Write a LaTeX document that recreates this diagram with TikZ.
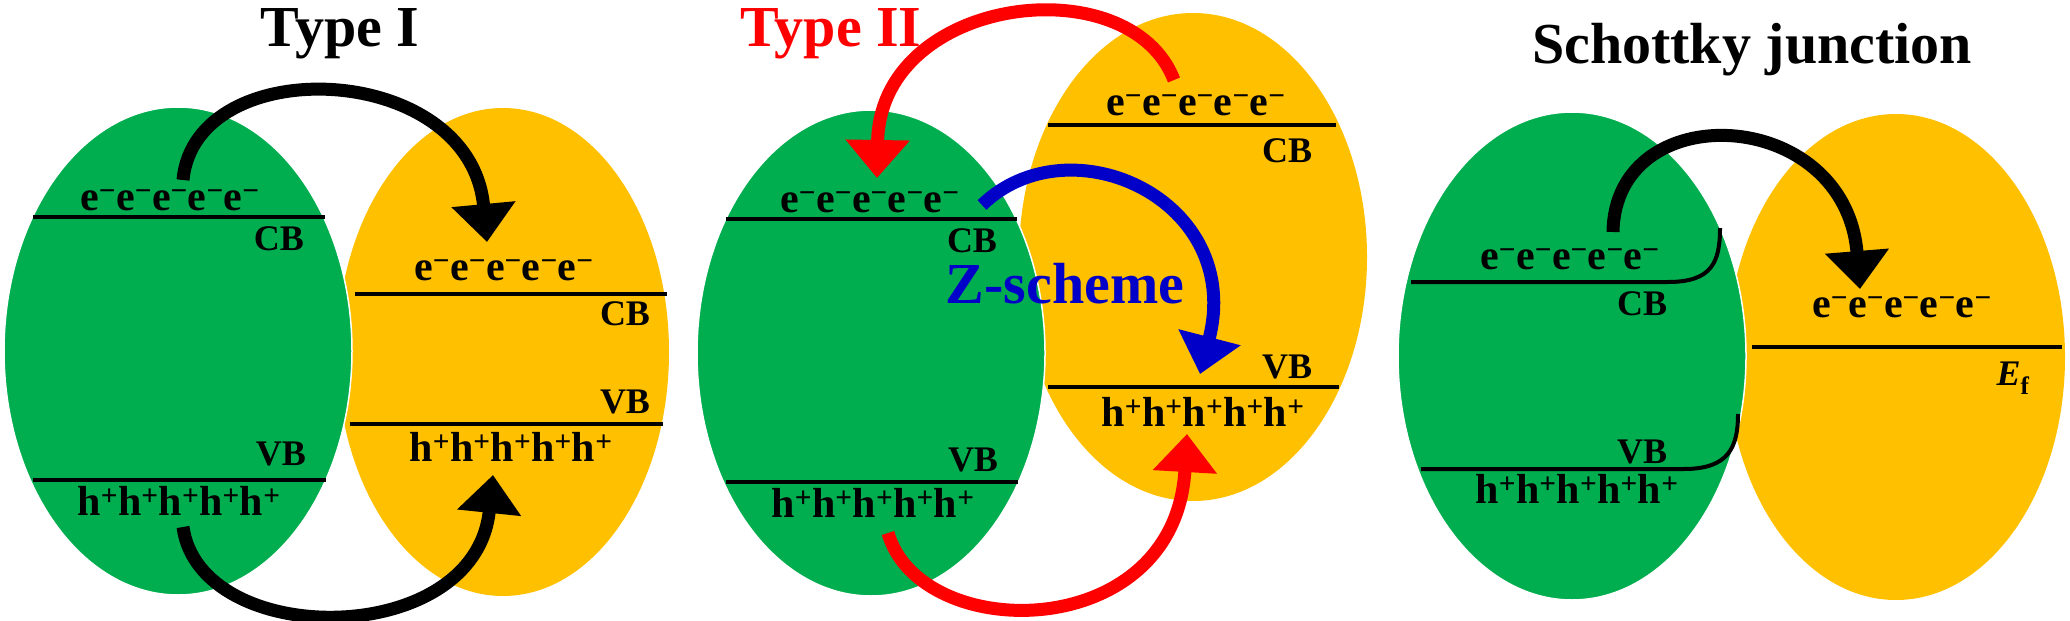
\documentclass[tikz,border=0pt]{standalone}
\usepackage{fontspec}
\setmainfont{Liberation Serif}
\usetikzlibrary{arrows.meta}
\definecolor{grn}{RGB}{0,174,80}
\definecolor{ylw}{RGB}{255,192,0}
\definecolor{zblue}{RGB}{0,0,200}
\newcommand{\elc}{e\textsuperscript{\char"2212}}
\newcommand{\hol}{h\textsuperscript{+}}
\newcommand{\eees}{\elc\elc\elc\elc\elc}
\newcommand{\hhhs}{\hol\hol\hol\hol\hol}
\begin{document}
\begin{tikzpicture}[x=1pt,y=-1pt,
  gel/.style={fill=grn,draw=white,line width=1.5pt},
  yel/.style={fill=ylw,draw=none},
  band/.style={line width=4pt,black},
  carr/.style={font=\bfseries\fontsize{42}{42}\selectfont,inner sep=0pt,anchor=base},
  lab/.style={font=\bfseries\fontsize{36}{36}\selectfont,inner sep=0pt,anchor=base},
  ttl/.style={font=\bfseries\fontsize{58}{58}\selectfont,inner sep=0pt,anchor=base},
  bigarr/.style={line width=13pt,-{Triangle[length=38pt 0,width=62pt 0]}}]
\useasboundingbox (0,0) rectangle (2070,621);
% ---------- Type I
\node[ttl] (t1) at (340,46) {Type I};
\fill[yel] (503,352) ellipse[x radius=166,y radius=244];
\draw[gel] (178,351) ellipse[x radius=174,y radius=244];
\draw[band] (33,217) -- (325,217);
\draw[band] (33,480) -- (326,480);
\draw[band] (355,294) -- (667,294);
\draw[band] (350,424) -- (663,424);
\node[carr] (e1) at (170,210) {\eees};
\node[lab] (cb1) at (279,250) {CB};
\node[lab] (vb1) at (281,465) {VB};
\node[carr] (h1) at (179,515) {\hhhs};
\node[carr] (e2) at (504,280) {\eees};
\node[lab] (cb2) at (625,325) {CB};
\node[lab] (vb2) at (625,413) {VB};
\node[carr] (h2) at (511,461) {\hhhs};
\coordinate (a1s) at (183,180);
\coordinate (a1e) at (487,242);
\coordinate (a2s) at (183,527);
\coordinate (a2e) at (493,475);
\draw[bigarr] (a1s) .. controls (195,50) and (470,60) .. (a1e);
\draw[bigarr] (a2s) .. controls (200,650) and (475,650) .. (a2e);
% ---------- Type II
\fill[yel] (1193,257) ellipse[x radius=174,y radius=244];
\draw[gel] (871,353) ellipse[x radius=174,y radius=243];
\node[ttl,red] (t2) at (831,46) {Type II};
\draw[band] (726,219) -- (1017,219);
\draw[band] (726,482) -- (1018,482);
\draw[band] (1048,125) -- (1336,125);
\draw[band] (1048,387) -- (1339,387);
\node[carr] (e3) at (870,212) {\eees};
\node[lab] (cb3) at (972,252) {CB};
\node[lab] (vb3) at (973,471) {VB};
\node[carr] (h3) at (873,517) {\hhhs};
\node[carr] (e4) at (1196,115) {\eees};
\node[lab] (cb4) at (1287,162) {CB};
\node[lab] (vb4) at (1287,378) {VB};
\node[carr] (h4) at (1203,426) {\hhhs};
\coordinate (r1s) at (1174,80);
\coordinate (r1e) at (877,178);
\coordinate (r2s) at (888,533);
\coordinate (r2e) at (1187,434);
\coordinate (b1s) at (982,205);
\coordinate (b1e) at (1200,374);
\draw[bigarr,red] (r1s) .. controls (1130,-35) and (880,-5) .. (r1e);
\draw[bigarr,red] (r2s) .. controls (920,645) and (1175,645) .. (r2e);
\draw[bigarr,zblue] (b1s) .. controls (1070,120) and (1245,200) .. (b1e);
\node[ttl,zblue] (zs) at (1065,303) {Z-scheme};
% ---------- Schottky
\node[ttl] (t3) at (1752,63) {Schottky junction};
\fill[yel] (1896,357) ellipse[x radius=169,y radius=243];
\draw[gel] (1572,356) ellipse[x radius=174,y radius=244];
\draw[line width=4pt] (1411,282) -- (1668,282) .. controls (1712,282) and (1720,262) .. (1720,228);
\draw[line width=4pt] (1421,469) -- (1684,469) .. controls (1728,469) and (1738,448) .. (1738,414);
\draw[band] (1752,347) -- (2062,347);
\node[carr] (e5) at (1570,269) {\eees};
\node[lab] (cb5) at (1642,315) {CB};
\node[lab] (vb5) at (1642,463) {VB};
\node[carr] (h5) at (1577,503) {\hhhs};
\node[carr] (e6) at (1902,317) {\eees};
\node[lab] (ef) at (2013,385) {\textit{E}\textsubscript{f}};
\coordinate (s1s) at (1613,232);
\coordinate (s1e) at (1860,289);
\draw[bigarr] (s1s) .. controls (1615,95) and (1845,105) .. (s1e);
\end{tikzpicture}
\end{document}
